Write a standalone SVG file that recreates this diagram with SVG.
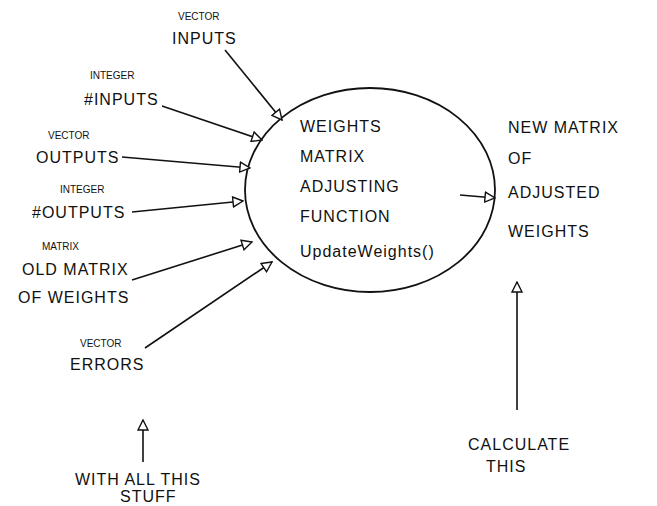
<svg xmlns="http://www.w3.org/2000/svg" width="657" height="506" viewBox="0 0 657 506">
<style>
.t{font-family:"Liberation Sans",sans-serif;fill:#111;font-size:16px;letter-spacing:1px}
.s{font-family:"Liberation Sans",sans-serif;fill:#111;font-size:10px}
.c{stroke:#111;stroke-width:1.6;fill:none;marker-end:url(#a)}
</style>
<defs><marker id="a" viewBox="0 0 12 12" refX="11" refY="6" markerWidth="12" markerHeight="12" markerUnits="userSpaceOnUse" orient="auto"><path d="M1,1 L11,6 L1,11 Z" fill="#fff" stroke="#111" stroke-width="1.4"/></marker></defs>
<rect width="657" height="506" fill="#fff"/>
<g id="func">
<ellipse cx="370" cy="190" rx="125" ry="102" fill="none" stroke="#111" stroke-width="1.8"/>
<text class="t" x="300" y="132">WEIGHTS</text>
<text class="t" x="300" y="162">MATRIX</text>
<text class="t" x="300" y="192">ADJUSTING</text>
<text class="t" x="300" y="222">FUNCTION</text>
<text class="t" x="300" y="257">UpdateWeights()</text>
</g>
<g id="in1"><text class="s" x="178" y="20">VECTOR</text><text class="t" x="172" y="44">INPUTS</text></g>
<g id="in2"><text class="s" x="90" y="79">INTEGER</text><text class="t" x="84" y="105">#INPUTS</text></g>
<g id="in3"><text class="s" x="48" y="139">VECTOR</text><text class="t" x="36" y="163">OUTPUTS</text></g>
<g id="in4"><text class="s" x="60" y="193">INTEGER</text><text class="t" x="32" y="218">#OUTPUTS</text></g>
<g id="in5"><text class="s" x="42" y="250">MATRIX</text><text class="t" x="22" y="275">OLD MATRIX</text><text class="t" x="18" y="303">OF WEIGHTS</text></g>
<g id="in6"><text class="s" x="80" y="347">VECTOR</text><text class="t" x="70" y="370">ERRORS</text></g>
<g id="note1"><text class="t" x="75" y="485">WITH ALL THIS</text><text class="t" x="120" y="502">STUFF</text></g>
<g id="out"><text class="t" x="508" y="133">NEW  MATRIX</text><text class="t" x="508" y="164">OF</text><text class="t" x="508" y="198">ADJUSTED</text><text class="t" x="508" y="237">WEIGHTS</text></g>
<g id="note2"><text class="t" x="468" y="450">CALCULATE</text><text class="t" x="486" y="472">THIS</text></g>
<g id="connectors">
<path class="c" d="M225,50 L282,120"/>
<path class="c" d="M162,106 L262,140"/>
<path class="c" d="M122,157 L250,168"/>
<path class="c" d="M132,212 L243,201"/>
<path class="c" d="M132,280 L252,242"/>
<path class="c" d="M145,348 L272,262"/>
<path class="c" d="M143,462 L143,420"/>
<path class="c" d="M460,195 L495,198"/>
<path class="c" d="M517,410 L517,282"/>
</g>
</svg>
